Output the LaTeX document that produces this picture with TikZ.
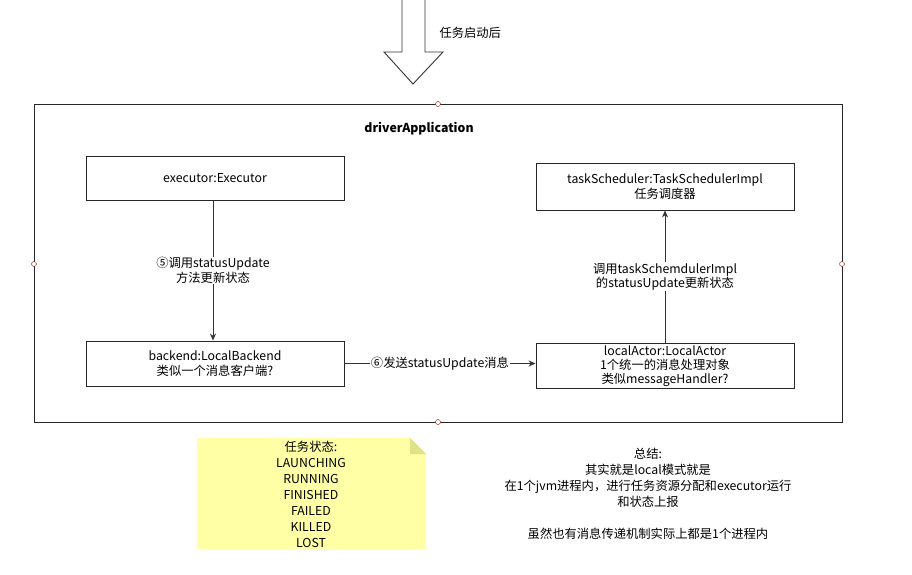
\documentclass[tikz,border=0pt]{standalone}
\usepackage{fontspec}
\setmainfont{Noto Sans CJK SC}
\usetikzlibrary{arrows.meta}
\begin{document}
\begin{tikzpicture}[x=1pt,y=-1pt,font=\fontsize{12.3}{14.5}\selectfont,
  box/.style={draw=black!85,line width=0.9pt,minimum width=258pt,align=center,inner sep=1pt},
  arr/.style={draw=black!80,line width=0.9pt,-{Stealth[length=7pt,width=6pt]}},
  lbl/.style={fill=white,align=center,inner sep=1pt},
  dot/.style={circle,draw=red!60!black,fill=white,inner sep=0pt,minimum size=5pt}]
\useasboundingbox (0,0) rectangle (912,575);
\draw[line width=0.9pt,black!80] (402,0) -- (402,52) -- (384,52) -- (413,84) -- (443,52) -- (425,52) -- (425,0);
\node[anchor=west] (start) at (436,33) {任务启动后};
\draw[line width=0.9pt,black!85] (34,104) rectangle (842,422);
\node[dot] (d1) at (438,104) {};
\node[dot] (d2) at (438,422) {};
\node[dot] (d3) at (34,264) {};
\node[dot] (d4) at (842,264) {};
\node[font=\fontsize{12.3}{13}\selectfont\bfseries] (title) at (419,129) {driverApplication};
\node[box,minimum height=44pt] (exec) at (215,178) {executor:Executor};
\node[box,minimum height=45pt] (back) at (215,363.5) {backend:LocalBackend\\类似一个消息客户端?};
\node[box,minimum height=45pt,font=\fontsize{12.3}{14}\selectfont] (actor) at (665,366) {localActor:LocalActor\\1个统一的消息处理对象\\类似messageHandler?};
\node[box,minimum height=47pt] (sched) at (665,186.5) {taskScheduler:TaskSchedulerImpl\\任务调度器};
\draw[arr] (exec.south -| 213,0) -- (back.north -| 213,0) node[lbl,pos=0.5] {⑤调用statusUpdate\\方法更新状态};
\draw[arr] (back.east) -- (actor.west |- back.east) node[lbl,pos=0.5] {⑥发送statusUpdate消息};
\draw[arr] (actor.north) -- (sched.south) node[lbl,pos=0.5] {调用taskSchemdulerImpl\\的statusUpdate更新状态};
\fill[fill={rgb,255:red,255;green,255;blue,166}] (197,438) -- (410,438) -- (426,454) -- (426,549) -- (197,549) -- cycle;
\fill[fill={rgb,255:red,225;green,225;blue,140}] (410,438) -- (410,454) -- (426,454) -- cycle;
\node[align=center,font=\fontsize{12.3}{16}\selectfont] (note) at (311,494) {任务状态:\\LAUNCHING\\RUNNING\\FINISHED\\FAILED\\KILLED\\LOST};
\node[align=center,font=\fontsize{12.3}{16}\selectfont] (sum) at (648,494) {总结:\\其实就是local模式就是\\在1个jvm进程内，进行任务资源分配和executor运行\\和状态上报\\ \\虽然也有消息传递机制实际上都是1个进程内};
\end{tikzpicture}
\end{document}
